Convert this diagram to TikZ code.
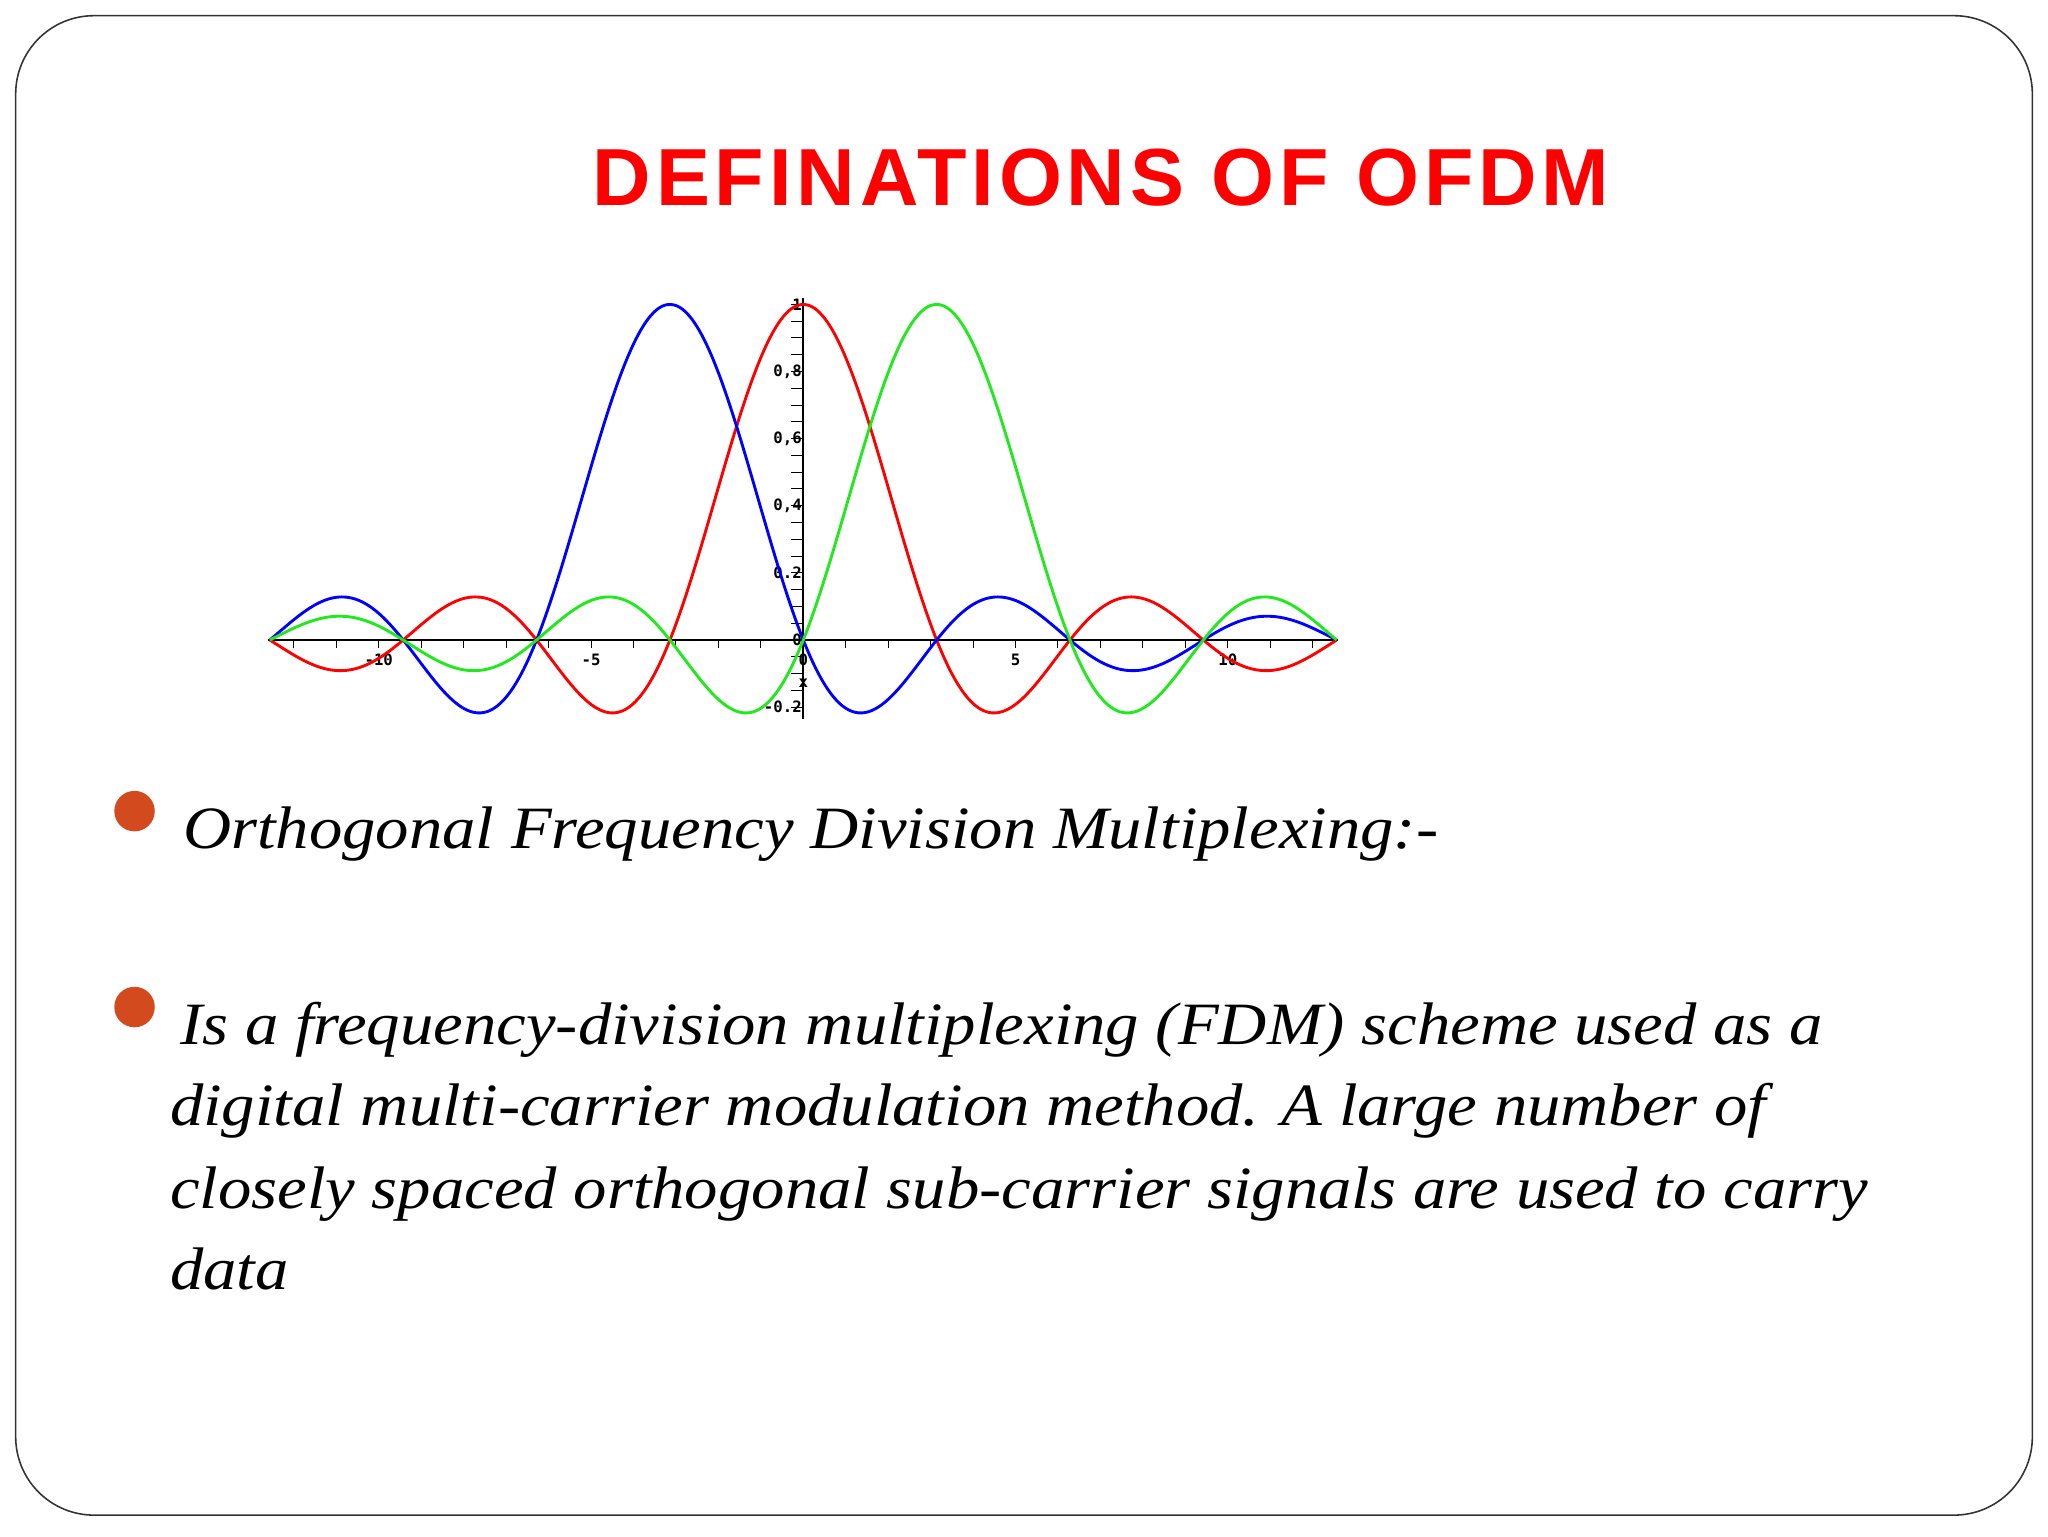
\documentclass[tikz,border=0pt]{standalone}
\usepackage{fontspec}
\setmainfont{Liberation Serif}
\newfontfamily\titlefont[LetterSpace=6]{Liberation Sans}
\newfontfamily\tickfont{DejaVu Sans Mono}
\newcommand{\wide}[1]{\scalebox{1.11}[1]{#1}}
\begin{document}
\begin{tikzpicture}[x=1pt,y=-1pt,
  curve/.style={line width=2.2pt,samples=240,smooth},
  bulletdot/.style={circle,fill=bulletc,minimum size=31pt,inner sep=0pt},
  body/.style={anchor=base west,inner sep=0pt,font=\fontsize{46}{62}\selectfont\itshape},
  tick/.style={font=\tickfont\bfseries\fontsize{12}{12}\selectfont,inner sep=1pt}]
\definecolor{bulletc}{HTML}{D44A1F}
\definecolor{gcol}{HTML}{22E81E}
\useasboundingbox (0,0) rectangle (1568,1176);
\fill[white] (0,0) rectangle (1568,1176);
\draw[line width=1.2pt,rounded corners=60pt,black!80] (12,12) rectangle (1556,1160);
\node[font=\titlefont\bfseries\fontsize{62}{62}\selectfont,text=red,anchor=base] (title) at (843,157) {DEFINATIONS OF OFDM};
\begin{scope}[shift={(615,490)},x=32.5pt,y=257pt]
  \draw[line width=1.2pt] (-12.6,0) -- (12.6,0);
  \draw[line width=1.2pt] (0,-0.235) -- (0,1.02);
  \foreach \k in {-12,...,12} \draw[line width=0.8pt] (\k,0) -- (\k,-0.025);
  \foreach \k in {-4,...,20} \draw[line width=0.8pt] (0,\k*0.05) -- (-0.3,\k*0.05);
  \node[tick,anchor=east] (y1) at (0,1) {1};
  \node[tick,anchor=east] (y8) at (0,0.8) {0,8};
  \node[tick,anchor=east] (y6) at (0,0.6) {0,6};
  \node[tick,anchor=east] (y4) at (0,0.4) {0,4};
  \node[tick,anchor=east] (y2) at (0,0.2) {0.2};
  \node[tick,anchor=east] (y0) at (0,0.0) {0};
  \node[tick,anchor=east] (ym) at (0,-0.2) {-0.2};
  \node[tick] (xa) at (-10,-0.06) {-10};
  \node[tick] (xb) at (-5,-0.06) {-5};
  \node[tick] (xc) at (0,-0.06) {0};
  \node[tick] (xd) at (5,-0.06) {5};
  \node[tick] (xe) at (10,-0.06) {10};
  \node[tick] (xl) at (0,-0.13) {x};
  \draw[curve,red,domain=-12.566:12.566] plot (\x,{sin(\x r)/\x});
  \draw[curve,blue,domain=-12.566:12.566] plot (\x,{sin((\x+pi) r)/(\x+pi)});
  \draw[curve,gcol,domain=-12.566:12.566] plot (\x,{sin((\x-pi) r)/(\x-pi)});
\end{scope}
\node[bulletdot] (b1) at (103,621) {};
\node[bulletdot] (b2) at (103,771) {};
\node[body] (t1) at (140,650) {\wide{Orthogonal Frequency Division Multiplexing:-}};
\node[body] (t2) at (138,800) {\wide{Is a frequency-division multiplexing (FDM) scheme used as a}};
\node[body] (t3) at (130,862) {\wide{digital multi-carrier modulation method. A large number of}};
\node[body] (t4) at (130,925) {\wide{closely spaced orthogonal sub-carrier signals are used to carry}};
\node[body] (t5) at (130,987) {\wide{data}};
\end{tikzpicture}
\end{document}
